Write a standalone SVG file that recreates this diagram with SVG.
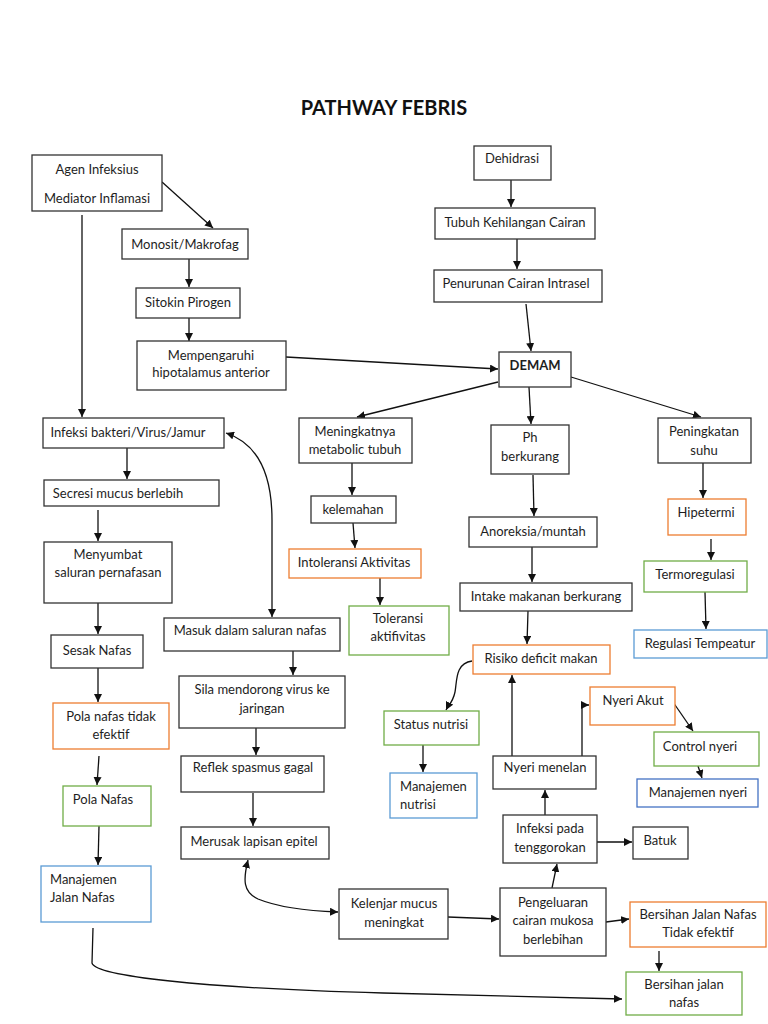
<svg xmlns="http://www.w3.org/2000/svg" width="768" height="1024" viewBox="0 0 768 1024">
<style>
text{font-family:Lato,"Open Sans","Liberation Sans",sans-serif;font-size:13px;fill:#1e1e1e;text-anchor:middle}
.l{text-anchor:start}
.t{font-size:20px;font-weight:bold;fill:#111}
.b{font-weight:bold}
rect{fill:#fff;stroke:#333;stroke-width:1.3}
.o{stroke:#ED7D31}
.g{stroke:#70AD47}
.bl{stroke:#5B9BD5}
.bd{stroke:#4472C4}
#connectors path{fill:none;stroke:#111;stroke-width:1.3;marker-end:url(#ah)}
#connectors path.both{marker-start:url(#ah)}
</style>
<defs>
<marker id="ah" viewBox="0 0 8 8" refX="8" refY="4" markerWidth="8" markerHeight="8" markerUnits="userSpaceOnUse" orient="auto-start-reverse">
<path d="M0,0 L8,4 L0,8 z" fill="#111"/>
</marker>
</defs>
<rect x="0" y="0" width="768" height="1024" style="fill:#fff;stroke:none"/>
<text class="t" x="384" y="115">PATHWAY FEBRIS</text>

<g id="connectors">
<path d="M162,182 L213,228"/>
<path d="M189,259 L189,287"/>
<path d="M189,318 L189,341"/>
<path d="M82,215 L82,417"/>
<path d="M286,357 L498,369"/>
<path d="M511,180 L511,207"/>
<path d="M517,239 L517,269"/>
<path d="M526,304 L531,351"/>
<path d="M498,382 L357,417"/>
<path d="M529,387 L531,424"/>
<path d="M571,377 L701,417"/>
<path d="M127,448 L127,479"/>
<path d="M98,510 L98,541"/>
<path d="M98,603 L98,634"/>
<path d="M98,668 L98,702"/>
<path d="M99,756 L97,785"/>
<path d="M99,826 L98,865"/>
<path class="both" d="M226,433 C262,445 272,480 272,520 L272,617"/>
<path d="M293,651 L293,675"/>
<path d="M256,728 L256,755"/>
<path d="M253,793 L253,826"/>
<path class="both" d="M248,860 C243,880 243,892 258,899 C280,908 310,911 338,912"/>
<path d="M448,917 L499,919"/>
<path d="M552,888 L557,864"/>
<path d="M545,815 L545,790"/>
<path d="M597,842 L632,842"/>
<path d="M512,756 L512,675"/>
<path d="M582,768 L582,708 Q582,705 585,705 L589,705"/>
<path d="M673,702 L693,731"/>
<path d="M698,766 L702,778"/>
<path d="M472,661 C455,663 457,682 455,692 C453,702 448,706 446,710"/>
<path d="M423,745 L423,772"/>
<path d="M352,463 L352,495"/>
<path d="M353,523 L355,548"/>
<path d="M380,578 L380,605"/>
<path d="M533,475 L534,516"/>
<path d="M532,547 L532,582"/>
<path d="M528,611 L527,644"/>
<path d="M703,463 L703,498"/>
<path d="M711,539 L711,560"/>
<path d="M705,592 L706,629"/>
<path d="M606,922 L629,919"/>
<path d="M659,951 L659,971"/>
<path d="M93,928 L92,963 C95,976 200,988 383,993 L622,999"/>
</g>

<g id="agen"><rect x="32" y="155" width="130" height="56"/><text x="97" y="174">Agen Infeksius</text><text x="97" y="203">Mediator Inflamasi</text></g>
<g id="monosit"><rect x="122" y="229" width="126" height="30"/><text x="185" y="249">Monosit/Makrofag</text></g>
<g id="sitokin"><rect x="136" y="288" width="104" height="30"/><text x="188" y="307">Sitokin Pirogen</text></g>
<g id="mempengaruhi"><rect x="137" y="341" width="149" height="49"/><text x="211" y="360">Mempengaruhi</text><text x="211" y="377">hipotalamus anterior</text></g>
<g id="dehidrasi"><rect x="474" y="146" width="77" height="34"/><text x="512" y="163">Dehidrasi</text></g>
<g id="tubuh"><rect x="435" y="208" width="160" height="31"/><text x="515" y="227">Tubuh Kehilangan Cairan</text></g>
<g id="penurunan"><rect x="434" y="270" width="168" height="32"/><text x="516" y="288">Penurunan Cairan Intrasel</text></g>
<g id="demam"><rect x="499" y="352" width="72" height="35"/><text class="b" x="535" y="370">DEMAM</text></g>
<g id="infeksi"><rect x="43" y="418" width="181" height="30"/><text x="128" y="437">Infeksi bakteri/Virus/Jamur</text></g>
<g id="secresi"><rect x="44" y="480" width="175" height="26"/><text x="118" y="498">Secresi mucus berlebih</text></g>
<g id="menyumbat"><rect x="44" y="542" width="128" height="61"/><text x="108" y="559">Menyumbat</text><text x="108" y="577">saluran pernafasan</text></g>
<g id="sesak"><rect x="51" y="635" width="92" height="33"/><text x="97" y="655">Sesak Nafas</text></g>
<g id="pola-tidak"><rect class="o" x="53" y="703" width="116" height="46"/><text x="111" y="721">Pola nafas tidak</text><text x="111" y="739">efektif</text></g>
<g id="pola-nafas"><rect class="g" x="63" y="786" width="88" height="40"/><text x="103" y="804">Pola Nafas</text></g>
<g id="manajemen-jalan"><rect class="bl" x="41" y="866" width="110" height="56"/><text class="l" x="50" y="884">Manajemen</text><text class="l" x="50" y="902">Jalan Nafas</text></g>
<g id="masuk"><rect x="164" y="618" width="176" height="33"/><text x="250" y="635">Masuk dalam saluran nafas</text></g>
<g id="sila"><rect x="179" y="676" width="166" height="52"/><text x="262" y="694">Sila mendorong virus ke</text><text x="262" y="713">jaringan</text></g>
<g id="reflek"><rect x="181" y="756" width="143" height="36"/><text x="253" y="772">Reflek spasmus gagal</text></g>
<g id="merusak"><rect x="181" y="827" width="148" height="32"/><text x="254" y="846">Merusak lapisan epitel</text></g>
<g id="meningkatnya"><rect x="299" y="418" width="113" height="45"/><text x="355" y="436">Meningkatnya</text><text x="355" y="454">metabolic tubuh</text></g>
<g id="kelemahan"><rect x="311" y="496" width="85" height="27"/><text x="353" y="514">kelemahan</text></g>
<g id="intoleransi"><rect class="o" x="289" y="549" width="132" height="29"/><text x="354" y="567">Intoleransi Aktivitas</text></g>
<g id="toleransi"><rect class="g" x="349" y="606" width="100" height="49"/><text x="398" y="623">Toleransi</text><text x="398" y="641">aktifivitas</text></g>
<g id="ph"><rect x="491" y="425" width="78" height="49"/><text x="530" y="442">Ph</text><text x="530" y="461">berkurang</text></g>
<g id="anoreksia"><rect x="469" y="517" width="128" height="30"/><text x="533" y="536">Anoreksia/muntah</text></g>
<g id="intake"><rect x="460" y="583" width="172" height="28"/><text x="546" y="601">Intake makanan berkurang</text></g>
<g id="risiko"><rect class="o" x="473" y="645" width="137" height="29"/><text x="541" y="663">Risiko deficit makan</text></g>
<g id="peningkatan"><rect x="658" y="418" width="93" height="45"/><text x="704" y="436">Peningkatan</text><text x="704" y="455">suhu</text></g>
<g id="hipetermi"><rect class="o" x="668" y="499" width="78" height="36"/><text x="706" y="517">Hipetermi</text></g>
<g id="termoregulasi"><rect class="g" x="644" y="561" width="103" height="31"/><text x="695" y="579">Termoregulasi</text></g>
<g id="regulasi"><rect class="bl" x="634" y="630" width="133" height="28"/><text x="700" y="648">Regulasi Tempeatur</text></g>
<g id="status-nutrisi"><rect class="g" x="384" y="711" width="95" height="34"/><text x="431" y="729">Status nutrisi</text></g>
<g id="manajemen-nutrisi"><rect class="bl" x="390" y="773" width="87" height="45"/><text class="l" x="400" y="791">Manajemen</text><text class="l" x="400" y="809">nutrisi</text></g>
<g id="nyeri-menelan"><rect x="493" y="756" width="103" height="33"/><text x="545" y="772">Nyeri menelan</text></g>
<g id="nyeri-akut"><rect class="o" x="590" y="687" width="85" height="38"/><text x="633" y="705">Nyeri Akut</text></g>
<g id="control-nyeri"><rect class="g" x="654" y="732" width="105" height="34"/><text x="700" y="751">Control nyeri</text></g>
<g id="manajemen-nyeri"><rect class="bd" x="637" y="779" width="121" height="28"/><text x="698" y="797">Manajemen nyeri</text></g>
<g id="infeksi-tenggorokan"><rect x="503" y="815" width="94" height="48"/><text x="550" y="833">Infeksi pada</text><text x="550" y="852">tenggorokan</text></g>
<g id="batuk"><rect x="633" y="827" width="55" height="32"/><text x="660" y="845">Batuk</text></g>
<g id="kelenjar"><rect x="339" y="889" width="109" height="50"/><text x="394" y="908">Kelenjar mucus</text><text x="394" y="927">meningkat</text></g>
<g id="pengeluaran"><rect x="500" y="888" width="106" height="68"/><text x="553" y="907">Pengeluaran</text><text x="553" y="925">cairan mukosa</text><text x="553" y="944">berlebihan</text></g>
<g id="bersihan-tidak"><rect class="o" x="630" y="902" width="136" height="45"/><text x="698" y="919">Bersihan Jalan Nafas</text><text x="698" y="937">Tidak efektif</text></g>
<g id="bersihan-jalan"><rect class="g" x="626" y="972" width="116" height="43"/><text x="684" y="989">Bersihan jalan</text><text x="684" y="1007">nafas</text></g>
</svg>
